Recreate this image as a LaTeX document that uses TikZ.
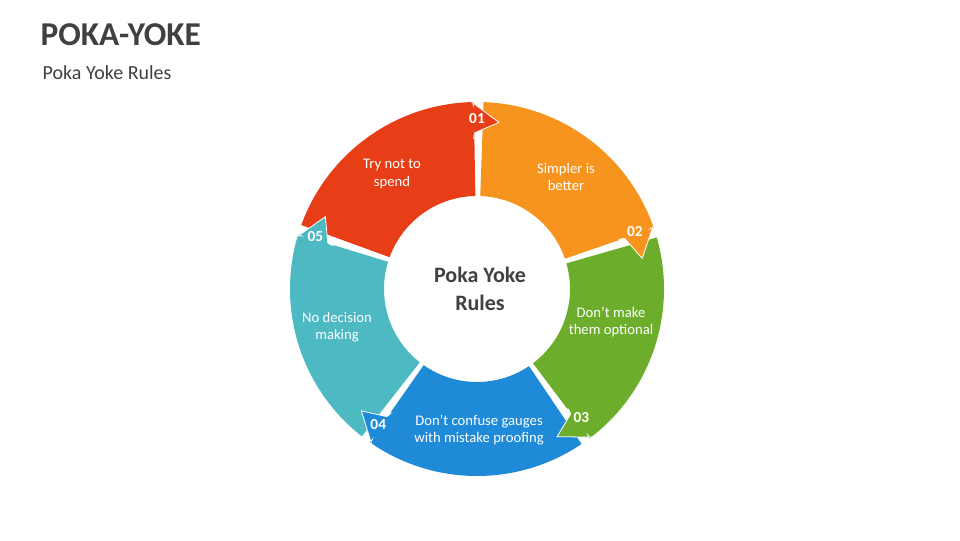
\documentclass[tikz,border=0pt]{standalone}
\usepackage{fontspec}
\setmainfont{Carlito}
\usetikzlibrary{calc}
\begin{document}
\begin{tikzpicture}[x=0.75pt,y=0.75pt,
  lbl/.style={text=white,align=center,font=\fontsize{11}{13}\selectfont},
  num/.style={text=white,font=\bfseries\fontsize{11.5}{13}\selectfont},
  tipstyle/.style={draw=white,line width=0.6pt,line join=miter}]
\useasboundingbox (0,0) rectangle (960,540);
\fill[white] (0,0) rectangle (960,540);
\coordinate (C) at (477,251);
\def\Ro{187}\def\Ri{93}
\definecolor{cA}{HTML}{E83E17}
\definecolor{cB}{HTML}{F7941E}
\definecolor{cC}{HTML}{6CAE2B}
\definecolor{cD}{HTML}{1E8AD8}
\definecolor{cE}{HTML}{4DB9C3}
% bodies: start s, end e
\foreach \s/\e/\c in {160/91/cA, 88/19/cB, 16/-53/cC, -56/-125/cD, -128/-197/cE}{
  \fill[\c] ($(C)+(\s:\Ri)$) -- ($(C)+(\s:\Ro)$) arc[start angle=\s,end angle=\e,radius=\Ro]
     -- ($(C)+(\e:156)$) -- ($(C)+(\e:\Ri)$) arc[start angle=\e,end angle=\s,radius=\Ri] -- cycle;
}
% tips
\foreach \e/\c in {91/cA, 19/cB, -53/cC, -125/cD, -197/cE}{
  \pgfmathsetmacro{\ea}{\e+1}\pgfmathsetmacro{\et}{\e-8.5}\pgfmathsetmacro{\eb}{\e+0.2}
  \pgfmathsetmacro{\ec}{\e+0.6}\pgfmathsetmacro{\ed}{\e-0.5}
  \filldraw[tipstyle,fill=\c] ($(C)+(\eb:186)$) -- ($(C)+(\ea:188)$) -- ($(C)+(\et:168)$) -- ($(C)+(\e:156)$) -- ($(C)+(\eb:150)$) -- cycle;
  \fill[\c] ($(C)+(\ec:184)$) -- ($(C)+(\ed:178)$) -- ($(C)+(\ed:160)$) -- ($(C)+(\ec:152)$) -- cycle;
}
\node[num] (n1) at ($(C)+(90:170)$) {01};
\node[num] (n2) at ($(C)+(20:168)$) {02};
\node[num] (n3) at ($(C)+(-51:166)$) {03};
\node[num] (n4) at ($(C)+(-126:168)$) {04};
\node[num] (n5) at ($(C)+(162:170)$) {05};
\node[lbl] (t1) at (392,366) {Try not to\\spend};
\node[lbl] (t2) at (566,363) {Simpler is\\better};
\node[lbl] (t3) at (611,218) {Don't make\\them optional};
\node[lbl] (t4) at (479,110) {Don't confuse gauges\\with mistake proofing};
\node[lbl] (t5) at (337,213) {No decision\\making};
\node[align=center,text=black!75,font=\bfseries\fontsize{16.5}{21}\selectfont] (ctr) at (480,251) {Poka Yoke\\Rules};
\node[anchor=west,text=black!75,font=\bfseries\fontsize{25}{30}\selectfont] (title) at (36,505) {POKA-YOKE};
\node[anchor=west,text=black!75,font=\fontsize{15}{18}\selectfont] (sub) at (38,467) {Poka Yoke Rules};
\end{tikzpicture}
\end{document}
